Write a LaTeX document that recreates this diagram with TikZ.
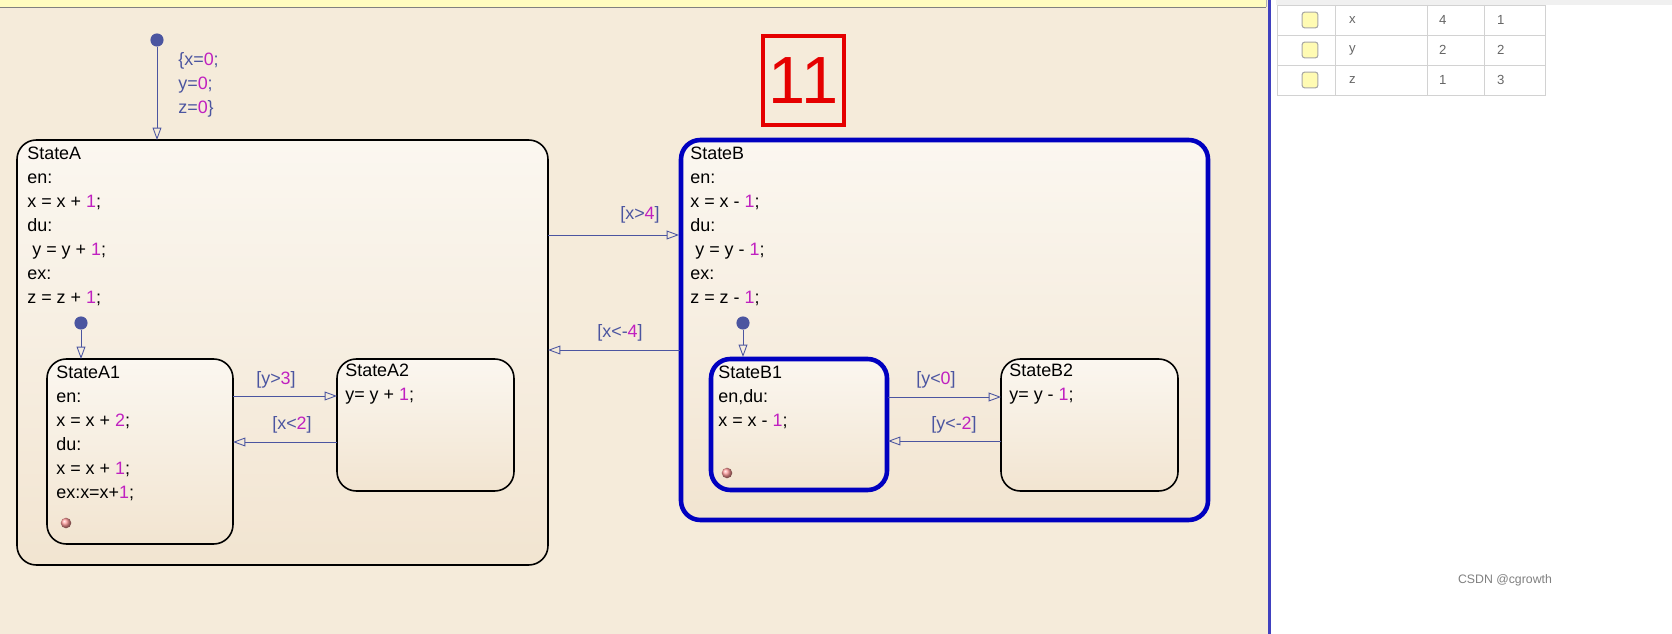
\documentclass[tikz,border=0pt]{standalone}
\usepackage{fontspec}
\setmainfont{Liberation Sans}
\usetikzlibrary{arrows.meta}
\definecolor{bg}{HTML}{F5EBDA}
\definecolor{mag}{HTML}{C020C0}
\definecolor{tr}{HTML}{4B55A0}
\definecolor{bb}{HTML}{0000C0}
\newcommand{\nm}[1]{\textcolor{mag}{#1}}
\begin{document}
\begin{tikzpicture}[x=0.02cm,y=-0.02cm,
  st/.style={rounded corners=11pt,draw=black,line width=0.9pt,top color=white!60!bg,bottom color=bg!85!brown!40!bg},
  stb/.style={st,draw=bb,line width=2.6pt},
  txt/.style={anchor=north west,align=left,inner sep=0pt,font=\fontsize{10.2}{13.6}\selectfont},
  lbl/.style={inner sep=0pt,text=tr,font=\fontsize{10.2}{13.6}\selectfont},
  tra/.style={draw=tr,line width=0.5pt,-{Triangle[open,length=7pt,width=5pt]}},
  dot/.style={circle,fill=tr,inner sep=0pt,minimum size=7.5pt},
  pink/.style={circle,inner sep=0pt,minimum size=6pt,ball color=red!40!white,draw=none}]
\useasboundingbox (0,0) rectangle (1672,634);
\fill[bg] (0,0) rectangle (1268,634);
\fill[yellow!25] (0,0) rectangle (1266,7);
\draw[gray,line width=0.8pt] (0,7.5) -- (1266,7.5);
\draw[gray!60,line width=0.5pt] (1266,0) -- (1266,7.5);
\fill[white] (1271,0) rectangle (1672,634);
\fill[blue!50!gray] (1268,0) rectangle (1271,634);
\fill[gray!12] (1276,0) rectangle (1672,5);
\draw[gray!35,line width=0.5pt] (1277,5) rectangle (1545,95);
\foreach \yy in {35,65} \draw[gray!35,line width=0.5pt] (1277,\yy) -- (1545,\yy);
\foreach \xx in {1335,1427,1484} \draw[gray!35,line width=0.5pt] (\xx,5) -- (\xx,95);
\foreach \r/\v/\a/\b [count=\i] in {x/x/4/1,y/y/2/2,z/z/1/3}{
  \pgfmathsetmacro{\yc}{20+30*(\i-1)}
  \node[draw=gray!70,fill=yellow!30,rounded corners=1.5pt,minimum size=9pt,inner sep=0pt,line width=0.6pt] (ic\i) at (1310,\yc) {};
  \node[font=\fontsize{7.5}{9}\selectfont,text=gray!80!black,anchor=west] (nm\i) at (1343,\yc) {\v};
  \node[font=\fontsize{7.5}{9}\selectfont,text=gray!80!black,anchor=west] (va\i) at (1433,\yc) {\a};
  \node[font=\fontsize{7.5}{9}\selectfont,text=gray!80!black,anchor=west] (vb\i) at (1491,\yc) {\b};
}
\node[font=\fontsize{7}{9}\selectfont,text=gray] (csdn) at (1505,580) {CSDN @cgrowth};
% red box
\node[draw=red!90!black,line width=2pt,text=red!90!black,minimum width=81*0.567pt,minimum height=89*0.567pt,inner sep=0pt,font=\fontsize{38}{40}\selectfont] (eleven) at (803.5,80.5) {11};
% StateA
\path[st] (17,140) rectangle (548,565);
\coordinate (A) at (17,140);
\node[txt] (Atxt) at (27,147) {StateA\\en:\\x = x + \nm{1};\\du:\\\ y = y + \nm{1};\\ex:\\z = z + \nm{1};};
\path[st] (47,359) rectangle (233,544);
\node[txt] (A1txt) at (56,366) {StateA1\\en:\\x = x + \nm{2};\\du:\\x = x + \nm{1};\\ex:x=x+\nm{1};};
\node[pink] (pa) at (66,523) {};
\path[st] (337,359) rectangle (514,491);
\node[txt] (A2txt) at (345,364) {StateA2\\y= y + \nm{1};};
% StateB
\path[stb] (681,140) rectangle (1208,520);
\node[txt] (Btxt) at (690,147) {StateB\\en:\\x = x - \nm{1};\\du:\\\ y = y - \nm{1};\\ex:\\z = z - \nm{1};};
\path[stb] (711,359) rectangle (887,490);
\node[txt] (B1txt) at (718,366) {StateB1\\en,du:\\x = x - \nm{1};};
\node[pink] (pb) at (727,473) {};
\path[st] (1001,359) rectangle (1178,491);
\node[txt] (B2txt) at (1009,364) {StateB2\\y= y - \nm{1};};
% defaults
\node[dot] (d0) at (157,40) {};
\coordinate (d0e) at (157,140);
\draw[tra] (d0) -- (d0e);
\node[lbl,anchor=north west,align=left] (ini) at (178,52) {\{x=\nm{0};\\y=\nm{0};\\z=\nm{0}\}};
\node[dot] (d1) at (81,323) {};
\coordinate (d1e) at (81,359);
\draw[tra] (d1) -- (d1e);
\node[dot] (d2) at (743,323) {};
\coordinate (d2e) at (743,357);
\draw[tra] (d2) -- (d2e);
% transitions
\coordinate (t1a) at (548,235); \coordinate (t1b) at (679,235);
\draw[tra] (t1a) -- (t1b); \node[lbl] (l1) at (640,215) {[x>\nm{4}]};
\coordinate (t2a) at (680,350); \coordinate (t2b) at (548,350);
\draw[tra] (t2a) -- (t2b); \node[lbl] (l2) at (620,333) {[x<-\nm{4}]};
\coordinate (t3a) at (233,396); \coordinate (t3b) at (337,396);
\draw[tra] (t3a) -- (t3b); \node[lbl] (l3) at (276,380) {[y>\nm{3}]};
\coordinate (t4a) at (337,442); \coordinate (t4b) at (233,442);
\draw[tra] (t4a) -- (t4b); \node[lbl] (l4) at (292,425) {[x<\nm{2}]};
\coordinate (t5a) at (888,397); \coordinate (t5b) at (1001,397);
\draw[tra] (t5a) -- (t5b); \node[lbl] (l5) at (936,380) {[y<\nm{0}]};
\coordinate (t6a) at (1001,441); \coordinate (t6b) at (888,441);
\draw[tra] (t6a) -- (t6b); \node[lbl] (l6) at (954,425) {[y<-\nm{2}]};
\end{tikzpicture}
\end{document}
